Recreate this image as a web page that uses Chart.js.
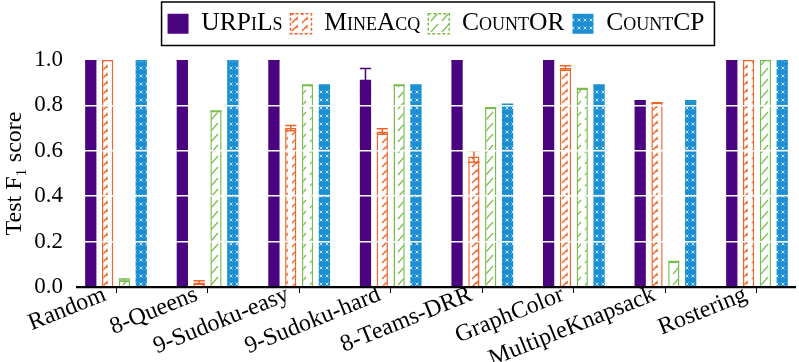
<!DOCTYPE html>
<html>
<head>
<meta charset="utf-8">
<script src="https://cdn.jsdelivr.net/npm/chart.js@4.4.1/dist/chart.umd.min.js"></script>
<style>
  html, body { margin: 0; padding: 0; background: #fff; }
  #wrap { width: 799px; height: 362px; position: relative; }
</style>
</head>
<body>
<div id="wrap"><canvas id="f1Chart"></canvas></div>
<script>
// --- Data ---
const categories = ['Random', '8-Queens', '9-Sudoku-easy', '9-Sudoku-hard',
                    '8-Teams-DRR', 'GraphColor', 'MultipleKnapsack', 'Rostering'];
const seriesNames = ['URPiLs', 'MineAcq', 'CountOR', 'CountCP'];

const urpils     = [1.00, 1.00, 1.00, 0.913, 1.00, 1.00, 0.82, 1.00];
const urpilsErr  = [0, 0, 0, 0.05, 0, 0, 0, 0];
const mineAcq    = [1.00, 0.02, 0.70, 0.685, 0.575, 0.965, 0.812, 1.00];
const mineAcqErr = [0, 0.008, 0.012, 0.012, 0.025, 0.01, 0, 0];
const countOR    = [0.03, 0.775, 0.89, 0.89, 0.79, 0.875, 0.112, 1.00];
const countORErr = [0.005, 0, 0, 0, 0, 0, 0, 0];
const countCP    = [1.00, 1.00, 0.89, 0.89, 0.805, 0.89, 0.82, 1.00];
const countCPErr = [0, 0, 0, 0, 0, 0, 0, 0];

const yTicks = [0.0, 0.2, 0.4, 0.6, 0.8, 1.0];

const PURPLE = '#4a0482';
const ORANGE = '#f0642a';
const GREEN  = '#7abd4f';
const BLUE   = '#1b8fd2';

const canvas = document.getElementById('f1Chart');
const mainCtx = canvas.getContext('2d');

// --- Fill patterns ---
function makePattern(w, h, bg, draw) {
    const c = document.createElement('canvas');
    c.width = w;
    c.height = h;
    const g = c.getContext('2d');
    g.fillStyle = bg;
    g.fillRect(0, 0, w, h);
    draw(g);
    return mainCtx.createPattern(c, 'repeat');
}

const hatchOrange = makePattern(10, 8, '#fff', g => {
    g.strokeStyle = ORANGE;
    g.lineWidth = 1.4;
    g.beginPath();
    g.moveTo(2, 7); g.lineTo(7, 2);
    g.lineTo(7, 4);
    g.stroke();
});

const hatchGreen = makePattern(11, 11, '#fff', g => {
    g.strokeStyle = GREEN;
    g.lineWidth = 1.2;
    g.beginPath();
    g.moveTo(2, 10); g.lineTo(9, 2);
    g.stroke();
});

const crossBlue = makePattern(6, 8, BLUE, g => {
    g.strokeStyle = 'rgba(255,255,255,0.9)';
    g.lineWidth = 0.8;
    g.beginPath();
    g.moveTo(1.5, 2.5); g.lineTo(4.5, 5.5);
    g.moveTo(4.5, 2.5); g.lineTo(1.5, 5.5);
    g.stroke();
});

const errorSets = [urpilsErr, mineAcqErr, countORErr, countCPErr];
const errorColors = [PURPLE, ORANGE, GREEN, BLUE];

// --- Plugins ---
const errorBars = {
    id: 'errorBars',
    afterDatasetsDraw(chart) {
        const { ctx, chartArea, scales: { y } } = chart;
        ctx.save();
        ctx.beginPath();
        ctx.rect(chartArea.left, chartArea.top, chartArea.width, chartArea.height);
        ctx.clip();
        chart.data.datasets.forEach((ds, i) => {
            const meta = chart.getDatasetMeta(i);
            meta.data.forEach((bar, j) => {
                const v = ds.data[j];
                const e = errorSets[i][j];
                const top = y.getPixelForValue(v + e);
                const bot = y.getPixelForValue(v - e);
                const half = bar.width / 2;
                ctx.strokeStyle = errorColors[i];
                ctx.lineWidth = 1.5;
                ctx.beginPath();
                ctx.moveTo(bar.x, top); ctx.lineTo(bar.x, bot);
                ctx.moveTo(bar.x - half, top); ctx.lineTo(bar.x + half, top);
                ctx.moveTo(bar.x - half, bot); ctx.lineTo(bar.x + half, bot);
                ctx.stroke();
            });
        });
        ctx.restore();
    }
};

const legendSpacing = {
    id: 'legendSpacing',
    beforeInit(chart) {
        const fit = chart.legend.fit;
        chart.legend.fit = function () {
            fit.call(this);
            this.height += 13.5;
        };
    }
};

const legendFrame = {
    id: 'legendFrame',
    afterDraw(chart) {
        const boxes = chart.legend.legendHitBoxes;
        if (!boxes || !boxes.length) return;
        const first = boxes[0];
        const last = boxes[boxes.length - 1];
        const ctx = chart.ctx;
        ctx.save();
        ctx.strokeStyle = '#000';
        ctx.lineWidth = 1.5;
        ctx.strokeRect(first.left - 6, first.top - 9,
                       last.left + last.width - first.left + 16, first.height + 18);
        ctx.restore();
    }
};

// --- Chart ---
new Chart(canvas, {
    type: 'bar',
    data: {
        labels: categories.map((_, i) => i),
        datasets: [
            { label: seriesNames[0], data: urpils, backgroundColor: PURPLE, borderWidth: 0 },
            { label: seriesNames[1], data: mineAcq, backgroundColor: hatchOrange, borderColor: ORANGE, borderWidth: 1.5 },
            { label: seriesNames[2], data: countOR, backgroundColor: hatchGreen, borderColor: GREEN, borderWidth: 1.5 },
            { label: seriesNames[3], data: countCP, backgroundColor: crossBlue, borderWidth: 0 }
        ]
    },
    options: {
        responsive: true,
        maintainAspectRatio: false,
        animation: false,
        categoryPercentage: 0.735,
        barPercentage: 0.67,
        layout: { padding: { top: 3, right: 4, left: 0, bottom: 0 } },
        plugins: {
            legend: {
                fullSize: false,
                labels: {
                    color: '#000',
                    boxWidth: 21,
                    boxHeight: 20,
                    padding: 8,
                    font: { family: 'Liberation Serif', size: 25.5, weight: 'small-caps' },
                    generateLabels(chart) {
                        const items = Chart.defaults.plugins.legend.labels.generateLabels(chart);
                        items.forEach(it => { if (it.lineWidth) it.lineDash = [3, 2]; });
                        return items;
                    }
                }
            },
            tooltip: { enabled: false }
        },
        scales: {
            x: {
                type: 'linear',
                offset: false,
                min: -0.426,
                max: 7.415,
                afterFit(scale) { scale.height = 75; },
                afterBuildTicks(scale) {
                    scale.ticks = categories.map((_, i) => ({ value: i }));
                },
                ticks: {
                    autoSkip: false,
                    minRotation: 22,
                    maxRotation: 22,
                    padding: -17,
                    color: '#000',
                    font: { family: 'Liberation Serif', size: 24 },
                    // trailing spaces pull the rotated label back from the tick
                    callback: v => categories[v] + '  '
                },
                grid: {
                    offset: false,
                    drawOnChartArea: false,
                    drawTicks: true,
                    tickLength: 6,
                    tickColor: '#000',
                    tickWidth: 1
                },
                border: { display: true, color: '#000', width: 2.2, z: 2 }
            },
            y: {
                min: 0,
                max: 1.0,
                afterFit(scale) { scale.width = 77; },
                afterBuildTicks(scale) {
                    const t = [];
                    for (let k = 0; k <= 10; k++) t.push({ value: k / 10 });
                    scale.ticks = t;
                },
                ticks: {
                    padding: 14,
                    color: '#000',
                    font: { family: 'Liberation Serif', size: 23 },
                    callback: v => {
                        const hit = yTicks.find(t => Math.abs(t - v) < 1e-6);
                        return hit === undefined ? '' : hit.toFixed(1);
                    }
                },
                grid: {
                    z: 1,
                    drawTicks: false,
                    lineWidth: 1.5,
                    color: c => {
                        const k = Math.round(c.tick.value * 10);
                        return (k === 0 || k === 10) ? 'rgba(0,0,0,0)' : '#fff';
                    }
                },
                border: { display: false },
                title: {
                    display: true,
                    text: 'Test F\u2081 score',
                    color: '#000',
                    font: { family: 'Liberation Serif', size: 24 },
                    padding: { top: 0, bottom: 0 }
                }
            }
        }
    },
    plugins: [errorBars, legendSpacing, legendFrame]
});
</script>
</body>
</html>
